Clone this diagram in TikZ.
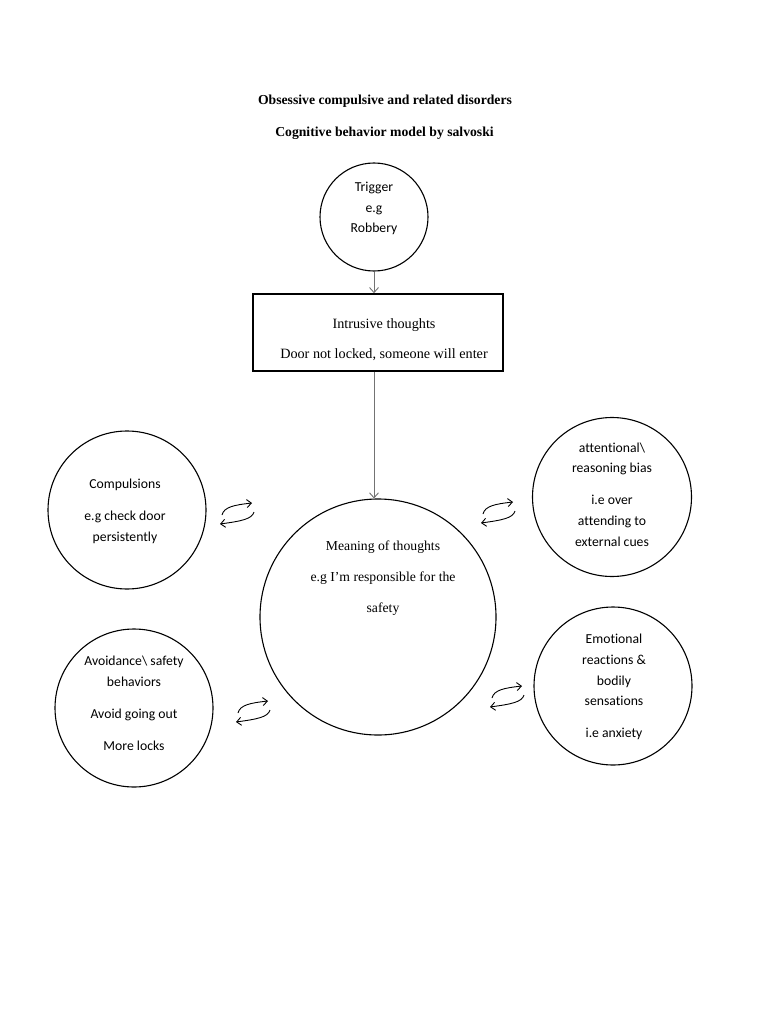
\documentclass[tikz,border=0pt]{standalone}
\usepackage{fontspec}
\setmainfont{Liberation Serif}
\newfontfamily\calfont[Ligatures=NoCommon]{Carlito}
\usetikzlibrary{arrows.meta}
\begin{document}
\begin{tikzpicture}[x=1pt,y=-1pt,
  circ/.style={circle,draw,line width=1.1pt,inner sep=0pt,minimum size=#1},
  ctext/.style={align=center,inner sep=0pt,font=\calfont\fontsize{13.7}{20.7}\selectfont},
  stext/.style={align=center,inner sep=0pt,font=\fontsize{14.2}{30.5}\selectfont},
  ttext/.style={inner sep=0pt,font=\bfseries\fontsize{13.7}{16}\selectfont},
  flow/.style={draw=black!55,line width=0.9pt,-{Straight Barb[length=5pt,width=9pt]}},
  swaparrow/.style={draw=black,line width=0.9pt,-{Straight Barb[length=4.5pt,width=8pt]}},
  pics/swap/.style={code={
    \draw[swaparrow] (0,2) .. controls (2,-6) and (12,-8) .. (30,-10);
    \draw[swaparrow] (32,-1) .. controls (30,6) and (20,8) .. (-2,11);
  }}]
\fill[white] (0,0) rectangle (768,1024);
\path[use as bounding box] (0,0) rectangle (768,1024);

\node[ttext] (title1) at (385,101) {Obsessive compulsive and related disorders};
\node[ttext] (title2) at (384.5,133) {Cognitive behavior model by salvoski};

\node[circ=108] (trig) at (374,217) {};
\node[ctext] (trigtxt) at (374,208.5) {Trigger\\e.g\\Robbery};

\node[draw,line width=1.6pt,minimum width=250pt,minimum height=77pt,inner sep=0pt] (box) at (378,332.5) {};
\node[stext] (boxtxt) at (384,339.5) {Intrusive thoughts\\Door not locked, someone will enter};

\node[circ=236] (mean) at (378,617) {};
\node[stext,font=\fontsize{13.7}{31}\selectfont] (meantxt) at (383,578.5) {Meaning of thoughts\\e.g I’m responsible for the\\safety};

\node[circ=158] (comp) at (127,510) {};
\node[ctext] (comptxt) at (125,511.5) {Compulsions\\[11.3pt]e.g check door\\persistently};

\node[circ=159] (att) at (612,497) {};
\node[ctext] (atttxt) at (612,494.5) {attentional\textbackslash\\reasoning bias\\[11.3pt]i.e over\\attending to\\external cues};

\node[circ=158] (avoid) at (134,708) {};
\node[ctext] (avoidtxt) at (134,703.5) {Avoidance\textbackslash{} safety\\behaviors\\[12pt]Avoid going out\\[11.3pt]More locks};

\node[circ=158] (emo) at (613,686) {};
\node[ctext] (emotxt) at (614,687) {Emotional\\reactions \&\\bodily\\sensations\\[11.3pt]i.e anxiety};

\draw[flow] (trig.south) -- (trig.south |- box.north);
\draw[flow] (trig.south |- box.south) -- (trig.south |- mean.north);

\coordinate (s1) at (222,513);
\coordinate (s2) at (483,512);
\coordinate (s3) at (238,711);
\coordinate (s4) at (492,696);
\pic at (s1) {swap};
\pic at (s2) {swap};
\pic at (s3) {swap};
\pic at (s4) {swap};
\end{tikzpicture}
\end{document}
